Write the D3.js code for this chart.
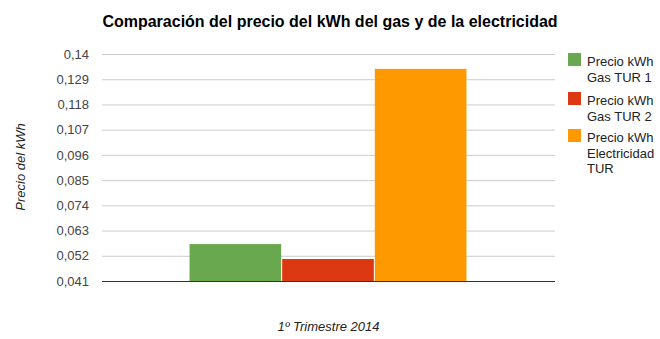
<!DOCTYPE html>
<html><head><meta charset="utf-8">
<script src="https://cdn.jsdelivr.net/npm/d3@7"></script>
<style>body{margin:0;background:#fff}svg{display:block;font-family:"Liberation Sans",Arial,sans-serif}</style>
</head><body><div id="c"></div>
<script>
const categories = ["1º Trimestre 2014"];
const seriesNames = [["Precio kWh","Gas TUR 1"],["Precio kWh","Gas TUR 2"],["Precio kWh","Electricidad","TUR"]];
const seriesValues = [0.0571, 0.0506, 0.1335];
const seriesColors = ["#6aa84f","#dc3912","#ff9900"];
const tickValues = [0.041,0.052,0.063,0.074,0.085,0.096,0.107,0.118,0.129,0.14];
const tickLabels = ["0,041","0,052","0,063","0,074","0,085","0,096","0,107","0,118","0,129","0,14"];

const W=660,H=339, L=102, R=555, T=54, B=281;
const svg=d3.select("#c").append("svg").attr("width",W).attr("height",H);
const y=d3.scaleLinear().domain([0.041,0.14]).range([B,T]);
const x0=d3.scaleBand().domain(categories).range([L,R]).paddingInner(0).paddingOuter(0.315);
const x1=d3.scaleBand().domain(d3.range(seriesValues.length)).range([0,x0.bandwidth()]);

svg.append("text").attr("x",330).attr("y",27).attr("text-anchor","middle")
  .attr("font-size",16).attr("font-weight","bold").attr("fill","#000")
  .text("Comparación del precio del kWh del gas y de la electricidad");

const ax=svg.append("g").attr("transform",`translate(${L},0)`)
  .call(d3.axisLeft(y).tickValues(tickValues).tickSize(-(R-L)).tickPadding(13)
    .tickFormat((d,i)=>tickLabels[i]));
ax.select(".domain").remove();
ax.selectAll(".tick line").attr("stroke","#ccc");
ax.selectAll(".tick text").attr("font-size",13).attr("fill","#444").attr("font-family","Liberation Sans, Arial, sans-serif");

categories.forEach(c=>{
  svg.append("g").selectAll("rect").data(seriesValues).join("rect")
    .attr("x",(d,i)=>x0(c)+x1(i)).attr("width",x1.bandwidth()-1)
    .attr("y",d=>y(d)).attr("height",d=>B-y(d)).attr("fill",(d,i)=>seriesColors[i]);
});
svg.append("line").attr("x1",L).attr("x2",R).attr("y1",B+0.5).attr("y2",B+0.5).attr("stroke","#333");

svg.append("text").attr("transform","translate(25,167) rotate(-90)").attr("text-anchor","middle")
  .attr("font-size",13).attr("font-style","italic").attr("fill","#222").text("Precio del kWh");
svg.append("text").attr("x",x0(categories[0])+x0.bandwidth()/2).attr("y",331).attr("text-anchor","middle")
  .attr("font-size",13).attr("font-style","italic").attr("fill","#222").text(categories[0]);

const lg=svg.append("g");
const starts=[53,92,129];
seriesNames.forEach((lines,i)=>{
  lg.append("rect").attr("x",568).attr("y",starts[i]).attr("width",13).attr("height",13).attr("fill",seriesColors[i]);
  const t=lg.append("text").attr("x",587).attr("y",starts[i]+13).attr("font-size",13).attr("fill","#222");
  lines.forEach((s,j)=>t.append("tspan").attr("x",587).attr("dy",j?15.5:0).text(s));
});
</script></body></html>
